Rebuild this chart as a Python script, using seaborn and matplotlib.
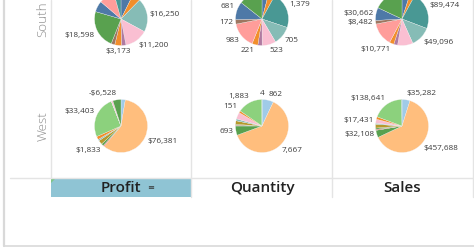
import numpy as np
import pandas as pd
import matplotlib
matplotlib.use("Agg")
import matplotlib.pyplot as plt
import seaborn as sns

# Superstore style data: Region x State, three measures
all_states = ["Alabama", "Arizona", "Arkansas", "California", "Colorado", "Connecticut",
              "Delaware", "District of Columbia", "Florida", "Georgia", "Idaho", "Illinois",
              "Indiana", "Iowa", "Kansas", "Kentucky", "Louisiana", "Maine", "Maryland",
              "Massachusetts", "Michigan", "Minnesota", "Mississippi", "Missouri", "Montana",
              "Nebraska", "Nevada", "New Hampshire", "New Jersey", "New Mexico", "New York",
              "North Carolina", "North Dakota", "Ohio", "Oklahoma", "Oregon", "Pennsylvania",
              "Rhode Island", "South Carolina", "South Dakota", "Tennessee", "Texas", "Utah",
              "Vermont", "Virginia", "Washington", "West Virginia", "Wisconsin", "Wyoming"]

tableau20 = ["#4E79A7", "#A0CBE8", "#F28E2B", "#FFBE7D", "#59A14F", "#8CD17D", "#B6992D",
             "#F1CE63", "#499894", "#86BCB6", "#E15759", "#FF9D9A", "#79706E", "#BAB0AC",
             "#D37295", "#FABFD2", "#B07AA1", "#D4A6C8", "#9D7660", "#D7B5A6"]

regions = ["South", "West"]
measures = ["Profit", "Quantity", "Sales"]

south_states = ["Alabama", "Arkansas", "Florida", "Georgia", "Kentucky", "Louisiana",
                "Mississippi", "North Carolina", "South Carolina", "Tennessee", "Virginia"]
south_profit = [5787, 4009, -3399, 16250, 11200, 2196, 3173, -7491, 1769, -5342, 18598]
south_quantity = [256, 240, 1379, 705, 523, 161, 221, 983, 172, 681, 893]
south_sales = [19511, 11678, 89474, 49096, 36592, 9217, 10771, 55603, 8482, 30662, 70637]

west_states = ["Arizona", "California", "Colorado", "Idaho", "Montana", "Nevada",
               "New Mexico", "Oregon", "Utah", "Washington", "Wyoming"]
west_profit = [-3428, 76381, -6528, 827, 1833, 3317, 1157, -1190, 2547, 33403, 100]
west_quantity = [862, 7667, 693, 64, 56, 272, 145, 499, 151, 1883, 4]
west_sales = [35282, 457688, 32108, 4382, 5589, 16729, 4784, 17431, 11220, 138641, 1603]

# slice order of the profit pies as drawn (negatives are moved to the end)
south_profit_order = ["Alabama", "Arkansas", "Georgia", "Kentucky", "Louisiana", "Mississippi",
                      "South Carolina", "Virginia", "Tennessee", "North Carolina", "Florida"]
west_profit_order = ["Arizona", "California", "Idaho", "Montana", "Nevada", "New Mexico",
                     "Utah", "Washington", "Wyoming", "Oregon", "Colorado"]

# which slices carry a visible label
south_labels = {"Profit": ["Georgia", "Virginia", "Mississippi", "Kentucky"],
                "Quantity": ["Tennessee", "Florida", "South Carolina", "North Carolina",
                             "Mississippi", "Kentucky", "Georgia"],
                "Sales": ["Tennessee", "Florida", "South Carolina", "Mississippi", "Georgia"]}
west_labels = {"Profit": ["Colorado", "Washington", "California", "Montana"],
               "Quantity": ["Washington", "Wyoming", "Arizona", "Utah", "Colorado", "California"],
               "Sales": ["Washington", "Arizona", "Oregon", "Colorado", "California"]}

rows = []
for region, states, p, q, s in [("South", south_states, south_profit, south_quantity, south_sales),
                                ("West", west_states, west_profit, west_quantity, west_sales)]:
    for st, pv, qv, sv in zip(states, p, q, s):
        rows.append({"region": region, "state": st, "Profit": pv, "Quantity": qv, "Sales": sv})
data = pd.DataFrame(rows)

sns.set_theme(style="white")
plt.rcParams['font.family'] = ['Open Sans', 'DejaVu Sans']
palette = sns.color_palette(tableau20)

W, H = 474, 249
fig = plt.figure(figsize=(W / 100, H / 100), dpi=100)
ax = fig.add_axes([0, 0, 1, 1])

col_x = [121, 262, 402]
row_y = [19, 126]
R = 26.5
grid_c = "#e4e4e4"
text_c = "#3c3c3c"


def fmt(measure, v):
    if measure == "Quantity":
        return f"{v:,}"
    return ("-$" if v < 0 else "$") + f"{abs(v):,}"


def draw_pie(region, measure, cx, cy):
    df = data[data.region == region].copy()
    if measure == "Profit":
        order = south_profit_order if region == "South" else west_profit_order
        df = df.set_index("state").loc[order].reset_index()
    size = df[measure].abs()
    colors = [palette[all_states.index(st) % 20] for st in df.state]
    ax.pie(size, colors=colors, startangle=90, counterclock=False, radius=R,
           center=(cx, H - cy), frame=True,
           wedgeprops=dict(edgecolor="#f4f4f4", linewidth=0.2))
    mid = size.cumsum() - size / 2
    theta = np.deg2rad(90 - 360 * mid / size.sum())
    shown = (south_labels if region == "South" else west_labels)[measure]
    for st, v, t in zip(df.state, df[measure], theta):
        if st not in shown:
            continue
        c, s = np.cos(t), np.sin(t)
        ha = "left" if c > 0.15 else ("right" if c < -0.15 else "center")
        va = "bottom" if s > 0.3 else ("top" if s < -0.3 else "center")
        ax.text(cx + (R + 2.5) * c, H - cy + (R + 2.5) * s, fmt(measure, v),
                ha=ha, va=va, fontsize=5.9, color=text_c)


for r, region in enumerate(regions):
    for c, measure in enumerate(measures):
        draw_pie(region, measure, col_x[c], row_y[r])
    ax.text(43, H - row_y[r], region, rotation=90, ha="center", va="center",
            fontsize=9.6, color="#8c8c8c", fontweight="light")

# table lines
ax.plot([51, 51], [H, H - 178], color=grid_c, lw=1)
for x in [191.5, 332, 473]:
    ax.plot([x, x], [H, H - 197], color=grid_c, lw=1)
ax.plot([10, W], [H - 178, H - 178], color=grid_c, lw=1)
ax.plot([4, 4], [H, H - 246], color="#d9d9d9", lw=1.6)
ax.plot([4, W], [H - 246, H - 246], color="#d9d9d9", lw=1.2)

# column headers, Profit selected
ax.add_patch(plt.Rectangle((51, H - 197), 140.5, 19, color="#8FC4D4", lw=0))
ax.add_patch(plt.Polygon([(51, H - 178), (56, H - 178), (51, H - 183)], color="#7fc48a", lw=0))
for c, measure in enumerate(measures):
    ax.text(col_x[c], H - 187.5, measure, ha="center", va="center",
            fontsize=11, color="#222222", fontweight="semibold")
ax.text(150.5, H - 187.5, "≡", ha="center", va="center", fontsize=6, color="#333333",
        family="DejaVu Sans")

ax.set_xlim(0, W)
ax.set_ylim(0, H)
ax.set_aspect("equal")
ax.set_axis_off()

fig.savefig("out.png", dpi=100)
